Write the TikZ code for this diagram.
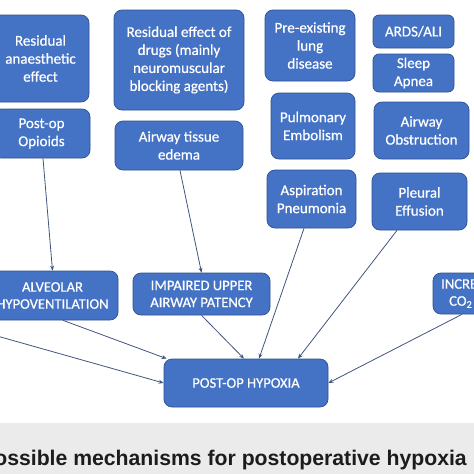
\documentclass[tikz,border=0pt]{standalone}
\usepackage{fontspec}
\setmainfont{Carlito}[FakeBold=0.6]
\newfontfamily\capfont{Liberation Sans}
\usetikzlibrary{arrows.meta}
\definecolor{boxfill}{HTML}{4472C4}
\definecolor{boxline}{HTML}{2F528F}
\definecolor{connline}{HTML}{41557F}
\definecolor{band}{HTML}{EBEBEB}
\definecolor{captext}{HTML}{1C1C1C}
\tikzset{
  box/.style={rectangle, rounded corners=8pt, fill=boxfill, draw=boxline, line width=0.7pt,
    text=white, align=center, inner sep=2pt,
    font=\fontsize{15}{18}\selectfont},
  capbox/.style={box, font=\fontsize{14.6}{17}\selectfont},
  conn/.style={draw=connline, line width=0.8pt, -{Stealth[length=5pt,width=4pt]}}
}
\begin{document}
\begin{tikzpicture}[x=1pt,y=-1pt]
\useasboundingbox (0,0) rectangle (474,474);
\clip (0,0) rectangle (474,474);
\fill[white] (0,0) rectangle (474,474);
% caption band
\fill[band] (0,423) rectangle (474,474);
\node[anchor=base east, inner sep=0pt, text=captext, font=\capfont\bfseries\fontsize{21.2}{24}\selectfont] (cap) at (467,465) {Possible mechanisms for postoperative hypoxia};
% boxes
\node[box, minimum width=97pt, minimum height=87pt] (res) at (40.5,58.5) {Residual\\anaesthetic\\effect};
\node[box, minimum width=97pt, minimum height=49pt] (opi) at (41.5,133.5) {Post-op\\Opioids};
\node[box, minimum width=130pt, minimum height=100pt] (drugs) at (179,60) {Residual effect of\\drugs (mainly\\neuromuscular\\blocking agents)};
\node[box, minimum width=128pt, minimum height=49pt] (edema) at (179,145.5) {Airway tissue\\edema};
\node[box, minimum width=90pt, minimum height=71pt] (lung) at (310,45.5) {Pre-existing\\lung\\disease};
\node[box, rounded corners=6pt, minimum width=81pt, minimum height=33pt] (ards) at (413.5,31.5) {ARDS/ALI};
\node[box, rounded corners=6pt, minimum width=81pt, minimum height=38pt] (sleep) at (413.5,73) {Sleep\\Apnea};
\node[box, minimum width=84pt, minimum height=66pt] (pe) at (313,126) {Pulmonary\\Embolism};
\node[box, minimum width=95pt, minimum height=57pt] (obs) at (421.5,130.5) {Airway\\Obstruction};
\node[box, minimum width=89pt, minimum height=58pt] (asp) at (311.5,199) {Aspiration\\Pneumonia};
\node[box, minimum width=95pt, minimum height=57pt] (pleu) at (419.5,201.5) {Pleural\\Effusion};
\node[capbox, minimum width=131pt, minimum height=49pt] (alv) at (52.5,295.5) {ALVEOLAR\\HYPOVENTILATION};
\node[capbox, minimum width=137pt, minimum height=42pt] (imp) at (201.5,294) {IMPAIRED UPPER\\AIRWAY PATENCY};
\node[capbox, minimum width=164pt, minimum height=48pt] (hyp) at (246,383) {POST-OP HYPOXIA};
\node[capbox, minimum width=87pt, minimum height=41pt] (inc) at (476.5,293.5) {};
\node[anchor=north west, inner sep=0pt, text=white, align=left, font=\fontsize{14.6}{17}\selectfont] (inctext) at (441,279) {INCREASED\\\hspace*{8pt}CO\textsubscript{2}};
\coordinate (lft) at (-10,334);
% connectors
\draw[conn] ([xshift=1.5pt]opi.south) -- (alv.north);
\draw[conn] ([xshift=1pt]edema.south) -- (imp.north);
\draw[conn] ([xshift=10.5pt]alv.south) -- ([xshift=3pt]hyp.north west);
\draw[conn] (lft) -- (hyp.west);
\draw[conn] (imp.south) -- ([xshift=-2pt]hyp.north);
\draw[conn] ([xshift=-7.5pt]asp.south) -- ([xshift=13pt]hyp.north);
\draw[conn] ([xshift=-22.5pt]pleu.south) -- ([xshift=52pt]hyp.north);
\draw[conn] ([xshift=-14.5pt]inc.south) -- (hyp.east);
\end{tikzpicture}
\end{document}
